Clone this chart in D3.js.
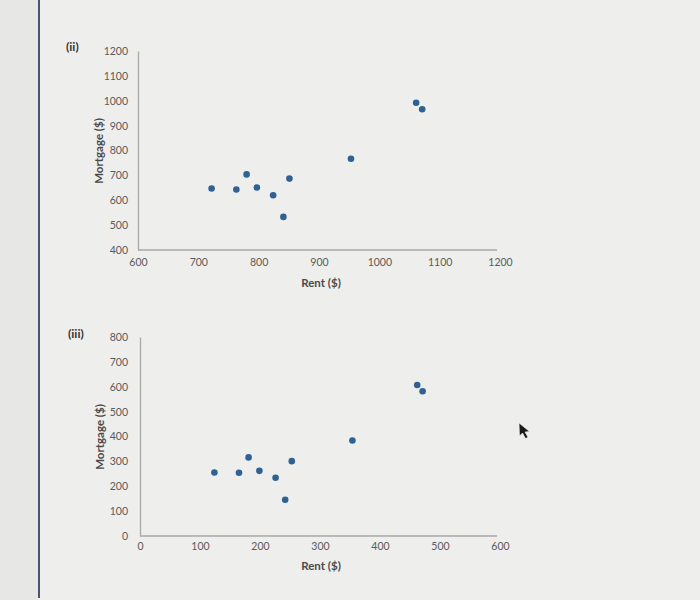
<!DOCTYPE html>
<html>
<head>
<meta charset="utf-8">
<script src="https://cdn.jsdelivr.net/npm/d3@7"></script>
<style>
  html, body { margin: 0; padding: 0; background: #ededec; }
  svg { display: block; }
</style>
</head>
<body>
<svg id="chart" width="700" height="600"></svg>
<script>
// Panel (ii): Rent vs Mortgage
const rent2 = [722, 763, 780, 797, 824, 851, 841, 953, 1061, 1071];
const mort2 = [647, 643, 704, 651, 620, 687, 533, 767, 992, 966];
const xTicks2 = [600, 700, 800, 900, 1000, 1100, 1200];
const yTicks2 = [400, 500, 600, 700, 800, 900, 1000, 1100, 1200];

// Panel (iii): shifted Rent vs Mortgage
const rent3 = [124, 165, 181, 199, 226, 253, 242, 354, 462, 471];
const mort3 = [255, 254, 316, 262, 234, 301, 146, 384, 607, 582];
const xTicks3 = [0, 100, 200, 300, 400, 500, 600];
const yTicks3 = [0, 100, 200, 300, 400, 500, 600, 700, 800];

const panelLabels = ["(ii)", "(iii)"];
const xTitle = "Rent ($)";
const yTitle = "Mortgage ($)";

const svg = d3.select("#chart");
const FONT = "Lato, 'Open Sans', sans-serif";

// page background
svg.append("rect").attr("x", 0).attr("y", 0).attr("width", 700).attr("height", 600).attr("fill", "#eeeeed");
svg.append("rect").attr("x", 0).attr("y", 0).attr("width", 38).attr("height", 600).attr("fill", "#e7e7e6");
svg.append("line").attr("x1", 39).attr("x2", 39).attr("y1", 0).attr("y2", 598)
  .attr("stroke", "#4d5270").attr("stroke-width", 2);

function panel(cfg) {
  const x = d3.scaleLinear().domain(cfg.xDomain).range(cfg.xRange);
  const y = d3.scaleLinear().domain(cfg.yDomain).range(cfg.yRange);
  const g = svg.append("g");

  const xAxis = d3.axisBottom(x).tickValues(cfg.xTicks).tickSize(0).tickPadding(cfg.xPad).tickFormat(d3.format("d"));
  const yAxis = d3.axisLeft(y).tickValues(cfg.yTicks).tickSize(0).tickPadding(cfg.yPad).tickFormat(d3.format("d"));

  const gx = g.append("g").attr("transform", `translate(0,${cfg.yRange[0]})`).call(xAxis);
  const gy = g.append("g").attr("transform", `translate(${cfg.xRange[0]},0)`).call(yAxis);
  [gx, gy].forEach(a => {
    a.select(".domain").attr("stroke", "#a9a9a9").attr("stroke-width", 1.3);
    a.selectAll("text").attr("fill", "#5a5a5a").attr("font-size", 10.5).attr("font-family", FONT);
  });
  gx.select(".domain").attr("d", `M${cfg.xRange[0]},0H${cfg.xRange[1] - 3}`);

  g.selectAll("circle.pt").data(cfg.xs).join("circle")
    .attr("class", "pt")
    .attr("cx", d => x(d))
    .attr("cy", (d, i) => y(cfg.ys[i]))
    .attr("r", 3.3)
    .attr("fill", "#2f6292");

  g.append("text").attr("x", cfg.xTitlePos[0]).attr("y", cfg.xTitlePos[1])
    .attr("text-anchor", "middle").attr("font-size", 11.5).attr("font-weight", "bold")
    .attr("fill", "#4a4a4a").attr("font-family", FONT).text(xTitle);

  g.append("text")
    .attr("transform", `translate(${cfg.yTitlePos[0]},${cfg.yTitlePos[1]}) rotate(-90)`)
    .attr("text-anchor", "middle").attr("font-size", 11.5).attr("font-weight", "bold")
    .attr("fill", "#4a4a4a").attr("font-family", FONT).text(yTitle);

  g.append("text").attr("x", cfg.labelPos[0]).attr("y", cfg.labelPos[1])
    .attr("font-size", 12).attr("font-weight", "bold")
    .attr("fill", "#333").attr("font-family", FONT).text(cfg.label);
}

panel({
  xs: rent2, ys: mort2,
  xDomain: [600, 1200], xRange: [138, 500],
  yDomain: [400, 1200], yRange: [250, 51],
  xTicks: xTicks2, yTicks: yTicks2,
  xPad: 9, yPad: 10,
  xTitlePos: [321, 287], yTitlePos: [103, 151],
  labelPos: [66, 51], label: panelLabels[0]
});

panel({
  xs: rent3, ys: mort3,
  xDomain: [0, 600], xRange: [140, 500],
  yDomain: [0, 800], yRange: [536, 337],
  xTicks: xTicks3, yTicks: yTicks3,
  xPad: 7, yPad: 12,
  xTitlePos: [321, 570], yTitlePos: [104, 437],
  labelPos: [68, 338], label: panelLabels[1]
});

// mouse pointer visible in the photographed screen
svg.append("path")
  .attr("d", "M519,423 L519.5,436 L522.5,433 L525.5,438.5 L528,437.3 L525,432 L529.5,431.5 Z")
  .attr("fill", "#1a1a1a").attr("stroke", "#f4f4f4").attr("stroke-width", 0.6);
</script>
</body>
</html>
